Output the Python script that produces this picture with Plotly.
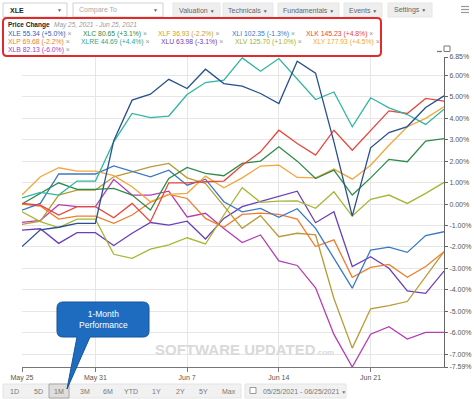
import plotly.graph_objects as go

# ---------------- data ----------------
dates = ["May 25", "May 26", "May 27", "May 28", "May 31", "Jun 1", "Jun 2", "Jun 3",
         "Jun 4", "Jun 7", "Jun 8", "Jun 9", "Jun 10", "Jun 11", "Jun 14", "Jun 15",
         "Jun 16", "Jun 17", "Jun 18", "Jun 21", "Jun 22", "Jun 23", "Jun 24", "Jun 25"]
x_tick_labels = ["May 25", "May 31", "Jun 7", "Jun 14", "Jun 21"]
y_tick_values = [6.85, 6, 5, 4, 3, 2, 1, 0, -1, -2, -3, -4, -5, -6, -7, -7.59]

tickers = ["XLE", "XLC", "XLF", "XLI", "XLK", "XLP", "XLRE", "XLU", "XLV", "XLY", "XLB"]
prices = ["55.34", "80.65", "36.93", "102.35", "145.23", "69.68", "44.69", "63.98", "125.70", "177.93", "82.13"]
changes = [5.0, 3.1, -2.2, -1.3, 4.8, -2.2, 4.4, -3.1, 1.0, 4.5, -6.0]

XLE = [-1.98, -1.2, -1.08, -0.9, -0.9, 2.95, 4.84, 5.12, 5.81, 5.38, 6.28, 5.61,
       5.49, 5.15, 4.68, 6.65, 6.1, 2.9, -0.56, 2.62, 3.33, 3.61, 4.5, 5.04]
XLC = [0.0, 0.5, 0.99, 0.68, 0.68, 0.73, 0.42, -0.28, 1.19, 1.71, 1.43, 1.32,
       1.89, 2.0, 2.67, 2.0, 1.19, 1.58, 0.42, 1.22, 2.08, 1.97, 2.93, 3.05]
XLF = [-0.95, -0.8, 0.42, 0.65, 0.65, 1.27, 1.5, 1.73, 1.89, 1.22, 0.96, -0.1,
       -1.13, -0.54, -1.52, -1.36, -1.44, -4.4, -6.71, -4.88, -4.73, -4.54, -3.4, -2.22]
XLI = [-0.28, 0.03, 1.4, 1.4, 1.4, 1.78, 1.53, 1.27, 1.58, 0.88, 1.16, 0.11,
       -0.36, -0.2, -0.62, -0.22, -1.13, -2.53, -3.92, -2.14, -2.01, -2.25, -1.47, -1.29]
XLK = [0.03, -0.05, -0.51, -0.12, -0.12, -0.64, 0.03, -0.82, 0.99, 0.99, 1.04, 1.07,
       1.81, 2.43, 3.44, 2.82, 2.28, 3.44, 2.51, 3.43, 4.34, 4.22, 4.92, 4.79]
XLP = [0.0, -0.09, -0.7, -0.56, -0.56, -0.9, -0.51, 0.08, 0.45, 0.26, -0.67, -1.08,
       -0.48, -0.42, -0.48, -0.7, -1.98, -1.67, -3.41, -2.95, -2.81, -3.41, -2.91, -2.22]
XLRE = [0.29, 0.54, 0.42, 1.07, 1.07, 2.9, 4.22, 4.03, 4.1, 5.1, 5.66, 5.77,
        6.81, 6.19, 6.78, 5.85, 4.87, 5.22, 3.6, 4.95, 4.48, 4.17, 3.71, 4.42]
XLU = [-1.21, -1.15, -1.83, -1.33, -1.33, -1.93, -1.36, -0.86, -0.98, -0.8, -1.63, -0.67,
       -0.12, 0.11, 0.34, 0.6, -0.87, -0.36, -2.91, -2.45, -2.99, -4.05, -4.16, -3.12]
XLV = [-0.36, -0.82, -1.1, -0.7, -0.7, -2.34, -2.53, -2.1, -1.9, -1.57, -1.86, -0.51,
       0.76, 0.08, 0.14, 0.15, -0.2, 0.57, -0.56, 0.22, 0.42, 0.03, 0.5, 1.01]
XLY = [0.42, 1.27, 1.69, 1.53, 1.53, 1.32, 0.81, 0.11, 0.45, 0.5, 1.3, 0.76,
       1.22, 1.77, 1.81, 1.24, 1.22, 1.63, 1.16, 1.81, 2.74, 3.6, 3.99, 4.53]
XLB = [-0.85, -0.76, -0.03, -0.12, -0.12, 1.15, 0.42, 0.42, 0.6, -0.6, -0.43, -1.14,
       -1.79, -1.44, -2.65, -2.86, -3.9, -6.07, -7.59, -6.06, -5.71, -6.29, -5.98, -5.98]

series = {"XLE": XLE, "XLC": XLC, "XLF": XLF, "XLI": XLI, "XLK": XLK, "XLP": XLP,
          "XLRE": XLRE, "XLU": XLU, "XLV": XLV, "XLY": XLY, "XLB": XLB}
colors = {"XLE": "#27508f", "XLC": "#2e8b4a", "XLF": "#b99a34", "XLI": "#3b78c4",
          "XLK": "#e8463c", "XLP": "#f07d2e", "XLRE": "#2fb5a0", "XLU": "#6b3fb8",
          "XLV": "#a9b536", "XLY": "#f5a53a", "XLB": "#b63cb4"}
text_colors = {"XLE": "#2f62b5", "XLC": "#2e8b4a", "XLF": "#c9a22a", "XLI": "#3b78c4",
               "XLK": "#e8463c", "XLP": "#f07d2e", "XLRE": "#2aa894", "XLU": "#6b3fb8",
               "XLV": "#a0b030", "XLY": "#f5a53a", "XLB": "#a83cc0"}

# ---------------- layout geometry (pixels) ----------------
W, H = 474, 399
ML, MR, MT, MB = 22, 30, 57, 32
PW = W - ML - MR
PH = H - MT - MB
FONT = "Liberation Sans, Arial, sans-serif"


def fx(p):
    return (p - ML) / PW


def fy(p):
    return (H - MB - p) / PH


fig = go.Figure()
draw_order = ["XLB", "XLU", "XLV", "XLF", "XLP", "XLI", "XLY", "XLC", "XLK", "XLRE", "XLE"]
for t in draw_order:
    fig.add_trace(go.Scatter(x=dates, y=series[t], mode="lines", name=t,
                             line=dict(color=colors[t], width=1.3), showlegend=False))

shapes = []
annotations = []


def rect(x0, y0, x1, y1, fill, line="rgba(0,0,0,0)", lw=1, layer="above"):
    shapes.append(dict(type="rect", xref="paper", yref="paper", x0=fx(x0), x1=fx(x1),
                       y0=fy(y1), y1=fy(y0), fillcolor=fill,
                       line=dict(color=line, width=lw), layer=layer))


def text(x, y, s, size=7, color="#333", xanchor="left", bold=False, italic=False, yanchor="middle"):
    if bold:
        s = "<b>" + s + "</b>"
    if italic:
        s = "<i>" + s + "</i>"
    annotations.append(dict(x=fx(x), y=fy(y), xref="paper", yref="paper", text=s,
                            showarrow=False, xanchor=xanchor, yanchor=yanchor,
                            font=dict(size=size, color=color, family=FONT)))


def rounded_path(x0, y0, x1, y1, r):
    pts = [
        f"M {fx(x0 + r)} {fy(y0)}", f"L {fx(x1 - r)} {fy(y0)}",
        f"Q {fx(x1)} {fy(y0)} {fx(x1)} {fy(y0 + r)}", f"L {fx(x1)} {fy(y1 - r)}",
        f"Q {fx(x1)} {fy(y1)} {fx(x1 - r)} {fy(y1)}", f"L {fx(x0 + r)} {fy(y1)}",
        f"Q {fx(x0)} {fy(y1)} {fx(x0)} {fy(y1 - r)}", f"L {fx(x0)} {fy(y0 + r)}",
        f"Q {fx(x0)} {fy(y0)} {fx(x0 + r)} {fy(y0)}", "Z"]
    return " ".join(pts)


# ---- top toolbar ----
rect(3, 3, 67, 17, "#ffffff", "#d0d0d0")
text(8, 10, "XLE", 7, "#222", bold=True)
text(59, 10, "▼", 5, "#666", xanchor="center")
rect(73, 3, 163, 17, "#ffffff", "#d0d0d0")
text(77, 10, "Compare To", 7, "#aaa")
text(155, 10, "▼", 5, "#666", xanchor="center")
buttons = [("Valuation", 173, 220), ("Technicals", 223, 273), ("Fundamentals", 278, 339),
           ("Events", 344, 382), ("Settings", 388, 432)]
for name, a, b in buttons:
    rect(a, 3, b, 17, "#eeeeee", "#e6e6e6")
    text((a + b) / 2, 10, name + " <span style='font-size:5px'>▼</span>", 7, "#666", xanchor="center")
for yy in (6.5, 9.5, 12.5):
    shapes.append(dict(type="line", xref="paper", yref="paper", x0=fx(461), x1=fx(469),
                       y0=fy(yy), y1=fy(yy), line=dict(color="#999", width=1.2)))

# ---- legend box ----
shapes.append(dict(type="path", xref="paper", yref="paper", path=rounded_path(3, 18, 381, 56, 4),
                   line=dict(color="#e22a2a", width=2), fillcolor="rgba(0,0,0,0)"))
text(6, 24.5, "Price Change", 6.5, "#222", bold=True)
text(52, 24.5, "May 25, 2021 - Jun 25, 2021", 6.5, "#999", italic=True)
legend_x = [6, 81, 156, 230, 304, 6, 79, 159, 233, 311, 6]
legend_y = [34, 34, 34, 34, 34, 42, 42, 42, 42, 42, 49.5]
for i, t in enumerate(tickers):
    s = f"{t} {prices[i]} ({changes[i]:+.1f}%) <span style='color:#999'>×</span>"
    text(legend_x[i], legend_y[i], s, 6.8, text_colors[t])

# small window icons
shapes.append(dict(type="line", xref="paper", yref="paper", x0=fx(437), x1=fx(442),
                   y0=fy(51.5), y1=fy(51.5), line=dict(color="#777", width=1.3)))
rect(444, 46, 450, 51.5, "#ffffff", "#777", 1)

# ---- watermark ----
text(244, 349, "SOFTWARE UPDATED<span style='font-size:8px'>.com</span>", 15, "#d9d9d9",
     xanchor="center", bold=True)

# ---- bottom buttons ----
rect(3, 384, 241, 398, "#f1f1f1", "#e4e4e4")
rect(49, 384, 69, 398, "#dedede", "#a8a8a8")
btns = ["1D", "5D", "1M", "3M", "6M", "YTD", "1Y", "2Y", "5Y", "Max"]
btn_x = [14, 38, 59, 85, 108, 131, 156, 180, 203, 229]
for b, xx in zip(btns, btn_x):
    text(xx, 391, b, 7, "#777", xanchor="center")
rect(245, 384, 346, 398, "#f1f1f1", "#e4e4e4")
rect(250, 387.5, 256, 393.5, "#ffffff", "#999", 1)
text(261, 391, "05/25/2021 - 06/25/2021 <span style='font-size:5px'>▼</span>", 7, "#777")

# ---- callout ----
cx0, cy0, cx1, cy1, r = 57, 302, 149, 337, 6
callout = " ".join([
    f"M {fx(cx0 + r)} {fy(cy0)}", f"L {fx(cx1 - r)} {fy(cy0)}",
    f"Q {fx(cx1)} {fy(cy0)} {fx(cx1)} {fy(cy0 + r)}", f"L {fx(cx1)} {fy(cy1 - r)}",
    f"Q {fx(cx1)} {fy(cy1)} {fx(cx1 - r)} {fy(cy1)}",
    f"L {fx(90)} {fy(cy1)}", f"L {fx(67)} {fy(389)}", f"L {fx(77)} {fy(cy1)}",
    f"L {fx(cx0 + r)} {fy(cy1)}",
    f"Q {fx(cx0)} {fy(cy1)} {fx(cx0)} {fy(cy1 - r)}", f"L {fx(cx0)} {fy(cy0 + r)}",
    f"Q {fx(cx0)} {fy(cy0)} {fx(cx0 + r)} {fy(cy0)}", "Z"])
shapes.append(dict(type="path", xref="paper", yref="paper", path=callout,
                   fillcolor="#1d6cc0", line=dict(color="#15559a", width=1)))
text(103, 319.5, "1-Month<br>Performance", 8.5, "#ffffff", xanchor="center")

fig.update_layout(
    width=W, height=H,
    margin=dict(l=ML, r=MR, t=MT, b=MB, pad=0, autoexpand=False),
    paper_bgcolor="#ffffff", plot_bgcolor="#ffffff",
    font=dict(family=FONT, size=7, color="#444"),
    showlegend=False,
    shapes=shapes, annotations=annotations,
    xaxis=dict(type="category", range=[0, len(dates) - 1], tickmode="array",
               tickvals=x_tick_labels, ticktext=x_tick_labels,
               showgrid=True, gridcolor="#e6e6e6", gridwidth=1,
               showline=True, linecolor="#777", linewidth=1,
               ticks="outside", ticklen=4, tickcolor="#777",
               tickfont=dict(size=7, color="#555"), zeroline=False, fixedrange=True),
    yaxis=dict(side="right", range=[-7.59, 6.85], tickmode="array",
               tickvals=y_tick_values, ticktext=[f"{v:.2f}%" for v in y_tick_values],
               showgrid=True, gridcolor="#e6e6e6", gridwidth=1,
               showline=True, linecolor="#666", linewidth=1,
               ticks="outside", ticklen=3, tickcolor="#666",
               tickfont=dict(size=7, color="#555"), zeroline=False, fixedrange=True),
)

fig.write_html("out.html", config={"displayModeBar": False},
               post_script="document.body.style.margin='0px';")
